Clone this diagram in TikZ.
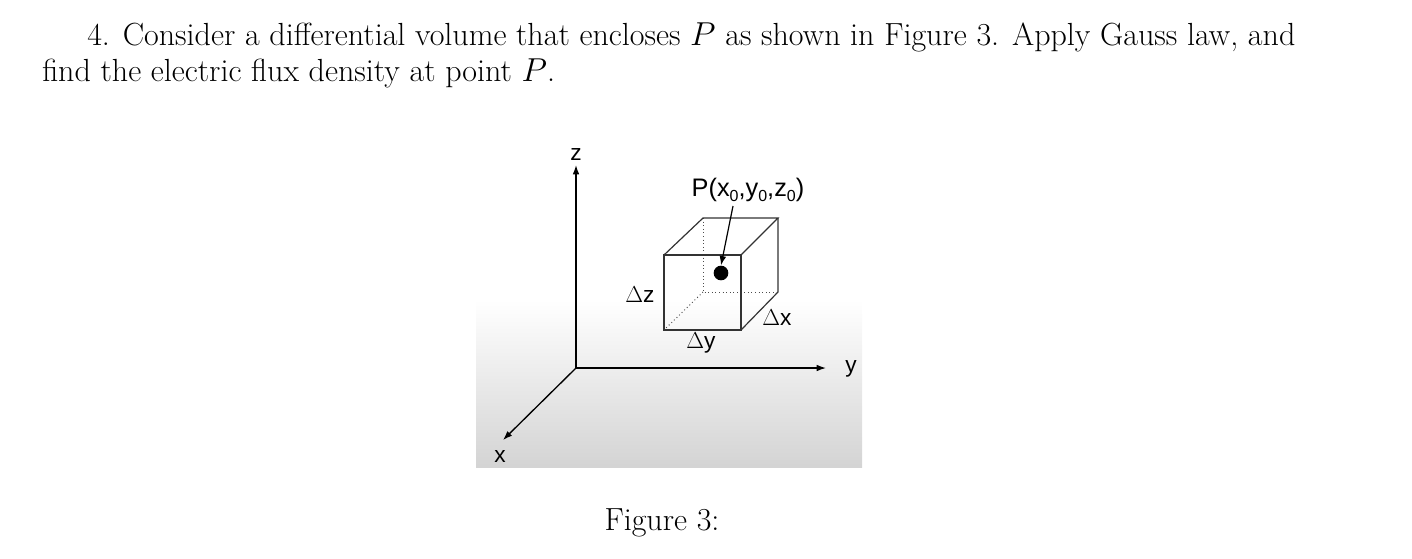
\documentclass[tikz,border=0pt]{standalone}
\usepackage{fontspec}
\newfontfamily\figfont{Liberation Sans}
\usetikzlibrary{arrows.meta}
\newcommand{\sbs}[1]{\raisebox{-0.35ex}{\fontsize{12}{12}\selectfont #1}}
\begin{document}
\begin{tikzpicture}[x=0.75pt,y=-0.75pt,
  ax/.style={line width=1pt,-{Latex[length=7pt,width=5pt]}},
  edge/.style={line width=0.9pt, draw=black!80},
  hid/.style={line width=0.7pt, dotted, draw=black!70},
  lab/.style={font=\figfont\fontsize{17}{17}\selectfont, inner sep=1pt},
  txt/.style={anchor=base west, inner sep=0pt, font=\fontsize{24}{29}\selectfont}]
\useasboundingbox (0,0) rectangle (1412,558);
\node[txt] (l1) at (87,45) {4. Consider a differential volume that encloses $P$ as shown in Figure 3. Apply Gauss law, and};
\node[txt] (l2) at (42,81) {find the electric flux density at point $P$.};
\shade[top color=white, bottom color=black!17] (476,300) rectangle (862,467);
\coordinate (O) at (576,368);
\coordinate (Z) at (576,165);
\coordinate (Y) at (826,368);
\coordinate (X) at (503,440);
\draw[ax] (O) -- (Z);
\draw[ax] (O) -- (Y);
\draw[ax] (O) -- (X);
\node[lab] (zl) at (576,155) {z};
\node[lab] (yl) at (851,369) {y};
\node[lab] (xl) at (500,456) {x};
% cube
\coordinate (a) at (664,255); \coordinate (b) at (741,255);
\coordinate (c) at (741,330); \coordinate (d) at (664,330);
\coordinate (e) at (703,218); \coordinate (f) at (778,218);
\coordinate (g) at (778,292); \coordinate (h) at (703,292);
\draw[hid] (e) -- (h) -- (g); \draw[hid] (h) -- (d);
\draw[edge] (a) -- (b) -- (c) -- (d) -- cycle;
\draw[edge] (a) -- (e) -- (f) -- (b);
\draw[edge] (f) -- (g) -- (c);
\node[circle, fill=black, minimum size=11pt, inner sep=0pt] (pt) at (721,273) {};
\node[font=\figfont\fontsize{19}{19}\selectfont, inner sep=1pt] (pl) at (748,190) {P(x\sbs{0},y\sbs{0},z\sbs{0})};
\draw[line width=0.9pt,-{Latex[length=7pt,width=5pt]}] (733,206) -- (pt.north);
\node[lab] (dz) at (640,295) {$\Delta$z};
\node[lab] (dy) at (701,343) {$\Delta$y};
\node[lab] (dx) at (777,318) {$\Delta$x};
\node[font=\fontsize{24}{29}\selectfont] (cap) at (662,523) {Figure 3:};
\end{tikzpicture}
\end{document}
